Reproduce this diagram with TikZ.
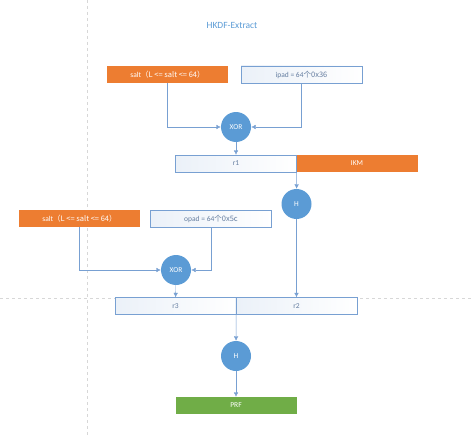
\documentclass[tikz,border=0pt]{standalone}
\usepackage{fontspec}
\setmainfont{Carlito}
\newfontfamily\cjk{Noto Sans CJK SC}
\usetikzlibrary{arrows.meta}
\definecolor{hkorange}{RGB}{237,125,49}
\definecolor{hkblue}{RGB}{91,155,213}
\definecolor{hkgreen}{RGB}{112,173,71}
\definecolor{hkline}{RGB}{120,160,210}
\definecolor{hktext}{RGB}{100,125,160}
\definecolor{hkguide}{RGB}{215,215,215}
\begin{document}
\begin{tikzpicture}[
x=1pt, y=-1pt,
font=\fontsize{7.5}{8}\selectfont,
inp/.style={rectangle, fill=hkorange, text=white, minimum width=121pt, minimum height=17pt, inner sep=0pt},
pad/.style={rectangle, draw=hkline, left color=hkline!15, right color=white, text=hktext, minimum width=121pt, minimum height=17pt, inner sep=0pt},
op/.style={circle, fill=hkblue, text=white, minimum size=30pt, inner sep=0pt},
link/.style={draw=hkline, -{Latex[length=4.5pt,width=4.5pt]}},
guide/.style={draw=hkguide, dashed}
]
\useasboundingbox (0,0) rectangle (474,436);
\draw[guide] (87,0) -- (87,436);
\draw[guide] (0,298) -- (474,298);

\node[text=hkblue, font=\fontsize{9.5}{10}\selectfont] (title) at (232,25) {HKDF-Extract};
\node[inp] (salt1) at (167.5,74.5) {salt\cjk{（}L <= salt <= 64\cjk{）}};
\node[pad] (ipad) at (301.5,74.5) {ipad = 64\cjk{个}0x36};
\node[op] (xor1) at (236,127) {XOR};
\node[pad] (r1) at (236,163.5) {r1};
\node[inp] (ikm) at (357,163.5) {IKM};
\node[op] (h1) at (296.5,204) {H};
\node[inp] (salt2) at (79.5,218.5) {salt\cjk{（}L <= salt <= 64\cjk{）}};
\node[pad] (opad) at (211,218.5) {opad = 64\cjk{个}0x5c};
\node[op] (xor2) at (176,270) {XOR};
\node[pad] (r3) at (175.5,306) {r3};
\node[pad] (r2) at (296.5,306) {r2};
\node[op] (h2) at (236,356) {H};
\node[inp, fill=hkgreen] (prf) at (236,405.5) {PRF};

\draw[link] (salt1.south) |- (xor1);
\draw[link] (ipad.south) |- (xor1);
\draw[link] (xor1) -- (r1);
\draw[link] (r1.south east) -- (h1);
\draw[link] (salt2.south) |- (xor2);
\draw[link] (opad.south) |- (xor2);
\draw[link] (xor2) -- (r3);
\draw[link] (h1) -- (r2);
\draw[link] (r3.north east) -- (h2);
\draw[link] (h2) -- (prf);
\end{tikzpicture}
\end{document}
